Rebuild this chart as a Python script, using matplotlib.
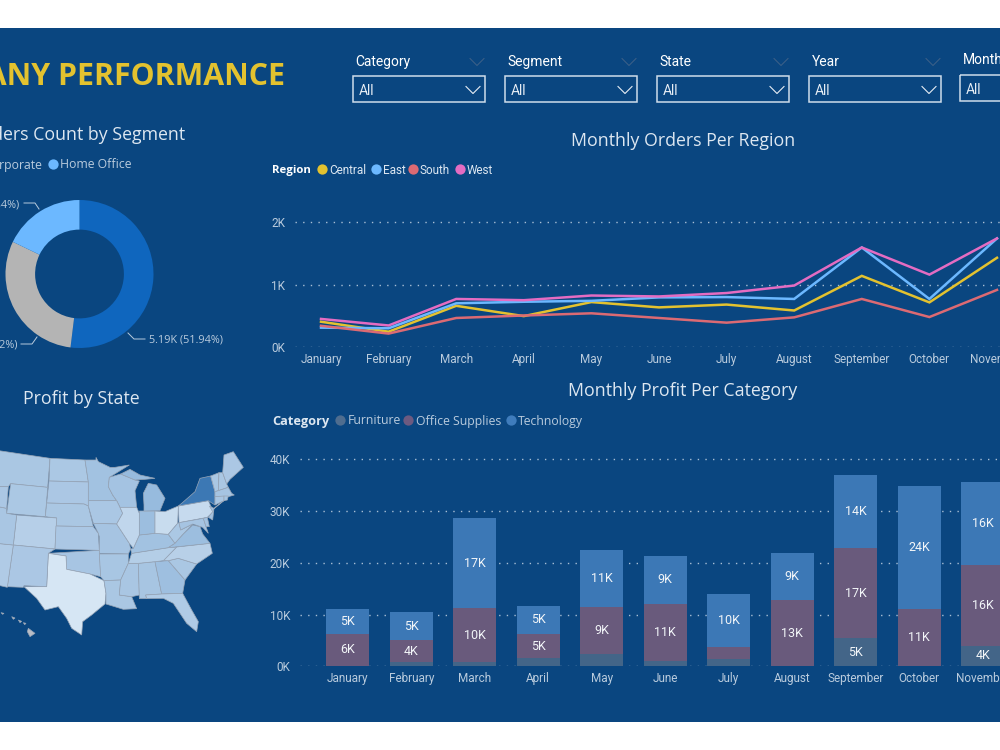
import matplotlib
matplotlib.use("Agg")
import matplotlib.pyplot as plt
from matplotlib.colors import LinearSegmentedColormap, Normalize
from matplotlib.patches import Polygon, Rectangle

plt.rcParams["font.family"] = ["Open Sans", "DejaVu Sans"]

# ---- data ----
months = ["January", "February", "March", "April", "May", "June", "July",
          "August", "September", "October", "November"]

central = [405, 245, 660, 495, 720, 635, 680, 585, 1140, 715, 1430]
east = [310, 300, 700, 725, 740, 795, 800, 770, 1595, 770, 1740]
south = [340, 215, 465, 505, 540, 465, 390, 475, 770, 480, 915]
west = [450, 345, 770, 750, 825, 810, 865, 985, 1595, 1160, 1740]

furniture = [0, 800, 800, 1550, 2400, 1000, 1400, 0, 5400, 0, 4000]
office = [6300, 4200, 10400, 4700, 9050, 11100, 2400, 12800, 17400, 11100, 15600]
technology = [4850, 5400, 17400, 5400, 11050, 9200, 10100, 9050, 14100, 23800, 16050]

segments = ["Consumer", "Corporate", "Home Office"]
segment_orders = [5191, 3020, 1783]

slicer_names = ["Category", "Segment", "State", "Year", "Month"]

# profit per state, guessed from the shade on the map
state_profit = {
    "Montana": 1800, "NorthDakota": 200, "SouthDakota": 400, "Wyoming": 100,
    "Nebraska": 2000, "Colorado": -6500, "Kansas": 800, "Oklahoma": 4800,
    "Texas": -25700, "NewMexico": 1100, "Arizona": -3400, "Utah": 2500,
    "Idaho": 800, "Minnesota": 10800, "Wisconsin": 8400, "Iowa": 1200,
    "Missouri": 6400, "Arkansas": 4000, "Louisiana": 2200, "Mississippi": 3200,
    "Alabama": 5800, "Georgia": 16300, "Florida": -3400, "SouthCarolina": 1800,
    "NorthCarolina": -7500, "Tennessee": -5300, "Kentucky": 11200,
    "Illinois": -12600, "Indiana": 18400, "Ohio": -17000, "Michigan": 24500,
    "Pennsylvania": -15600, "NewYork": 74000, "WestVirginia": 200,
    "Virginia": 18600, "Maryland": 7000, "Delaware": 9900, "NewJersey": 9800,
    "Vermont": 2200, "NewHampshire": 1700, "Maine": 450, "Massachusetts": 6800,
    "Connecticut": 3500, "RhodeIsland": 7300, "Hawaii": 0,
}

# rough state outlines
state_shapes = {
    "Montana": [[(-30, 208), (150, 235), (143, 322), (32, 311), (25, 320), (-30, 320)]],
    "NorthDakota": [[(150, 235), (255, 240), (265, 306), (147, 303)]],
    "SouthDakota": [[(147, 303), (265, 306), (265, 378), (252, 372), (140, 369)]],
    "Wyoming": [[(32, 311), (143, 322), (136, 410), (20, 400)]],
    "Nebraska": [[(140, 369), (252, 372), (265, 378), (280, 440), (168, 438), (170, 414), (136, 410)]],
    "Colorado": [[(50, 405), (170, 414), (165, 507), (40, 495)]],
    "Kansas": [[(168, 438), (280, 440), (295, 460), (298, 511), (165, 507)]],
    "Oklahoma": [[(145, 520), (298, 511), (302, 590), (270, 582), (200, 568), (198, 528)]],
    "Texas": [[(145, 520), (198, 528), (200, 568), (270, 582), (312, 602), (318, 640), (315, 672),
               (275, 705), (248, 725), (245, 765), (215, 745), (200, 715), (175, 680), (135, 690),
               (110, 655), (72, 620), (140, 620)]],
    "NewMexico": [[(40, 495), (165, 507), (145, 520), (140, 620), (72, 617), (70, 622), (22, 620)]],
    "Arizona": [[(-30, 488), (40, 495), (22, 622), (-30, 610)]],
    "Utah": [[(-30, 375), (20, 385), (20, 400), (50, 405), (40, 495), (-30, 488)]],
    "Idaho": [[(-30, 320), (25, 320), (20, 385), (-30, 375)]],
    "Minnesota": [[(255, 240), (288, 240), (288, 232), (295, 245), (330, 262), (345, 262), (388, 255),
                   (328, 292), (325, 320), (338, 345), (350, 362), (265, 362), (265, 306)]],
    "Wisconsin": [[(328, 292), (362, 282), (405, 300), (418, 303), (405, 332), (410, 382), (360, 382),
                   (350, 362), (338, 345), (325, 320)]],
    "Iowa": [[(265, 362), (350, 362), (360, 382), (368, 400), (350, 432), (280, 430), (265, 378)]],
    "Missouri": [[(280, 430), (350, 432), (388, 490), (392, 507), (385, 522), (298, 520), (298, 470), (295, 460)]],
    "Arkansas": [[(298, 522), (385, 522), (385, 550), (362, 600), (312, 602), (302, 590)]],
    "Louisiana": [[(312, 602), (362, 600), (358, 645), (395, 650), (410, 686), (370, 688), (318, 672), (318, 640)]],
    "Mississippi": [[(385, 550), (415, 550), (418, 645), (395, 650), (358, 645), (362, 600)]],
    "Alabama": [[(415, 550), (465, 545), (485, 642), (437, 645), (440, 656), (418, 656)]],
    "Georgia": [[(465, 545), (505, 542), (555, 600), (548, 640), (485, 642)]],
    "Florida": [[(437, 645), (485, 642), (548, 640), (575, 690), (595, 725), (590, 755), (560, 730),
                 (540, 700), (520, 670), (490, 655), (440, 656)]],
    "SouthCarolina": [[(505, 542), (535, 535), (590, 552), (555, 600)]],
    "NorthCarolina": [[(490, 542), (530, 501), (630, 490), (637, 520), (590, 552), (535, 535), (505, 542)]],
    "Tennessee": [[(385, 550), (395, 520), (505, 503), (530, 501), (490, 542), (465, 545), (415, 550)]],
    "Kentucky": [[(392, 507), (400, 505), (418, 465), (465, 460), (505, 463), (525, 490), (505, 503), (395, 520)]],
    "Illinois": [[(360, 382), (410, 382), (418, 400), (418, 465), (400, 505), (388, 490), (350, 432), (368, 400)]],
    "Indiana": [[(418, 393), (465, 393), (465, 460), (418, 465)]],
    "Ohio": [[(465, 393), (495, 395), (535, 378), (533, 430), (505, 463), (465, 460)]],
    "Michigan": [[(432, 375), (430, 340), (445, 310), (470, 315), (495, 355), (480, 392), (432, 393)],
                 [(362, 282), (390, 268), (420, 285), (465, 295), (435, 298), (405, 300)]],
    "Pennsylvania": [[(535, 378), (625, 362), (640, 395), (622, 412), (537, 428)]],
    "NewYork": [[(545, 370), (585, 335), (600, 295), (632, 288), (645, 335), (645, 375), (625, 362), (535, 378)],
                [(640, 388), (680, 355), (645, 382)]],
    "WestVirginia": [[(533, 430), (537, 428), (542, 450), (578, 432), (550, 462), (525, 490), (505, 463)]],
    "Virginia": [[(505, 503), (525, 490), (550, 462), (578, 435), (600, 440), (608, 462), (630, 490)]],
    "Maryland": [[(537, 428), (610, 415), (618, 440), (625, 460), (608, 442), (578, 432), (542, 450)]],
    "Delaware": [[(610, 415), (622, 412), (628, 440), (618, 440)]],
    "NewJersey": [[(628, 378), (642, 385), (638, 420), (625, 412), (638, 395)]],
    "Vermont": [[(632, 288), (657, 278), (655, 332), (645, 335)]],
    "NewHampshire": [[(657, 278), (668, 278), (680, 312), (685, 322), (655, 332)]],
    "Maine": [[(672, 225), (700, 215), (730, 262), (690, 298), (680, 312), (668, 278)]],
    "Massachusetts": [[(645, 335), (655, 332), (685, 322), (695, 340), (703, 345), (685, 350), (645, 350)]],
    "Connecticut": [[(645, 350), (672, 348), (672, 362), (645, 375)]],
    "RhodeIsland": [[(672, 348), (685, 348), (682, 360), (672, 362)]],
    "Hawaii": [[(85, 745), (105, 760), (90, 770), (82, 755)], [(3, 698), (12, 700), (8, 703)],
               [(35, 710), (45, 714), (40, 718)], [(55, 720), (65, 724), (60, 728)], [(70, 728), (78, 730), (74, 734)]],
}

# ---- colours ----
navy = "#0A4680"
title_col = "#DDE7F1"
tick_col = "#B9CBDD"
grid_col = "#A8BED4"
yellow = "#E3C22F"
region_cols = {"Central": yellow, "East": "#6CB8FF", "South": "#DC6A73", "West": "#E46CC2"}
cat_cols = {"Furniture": "#436588", "Office Supplies": "#695A7C", "Technology": "#3C78B6"}
cat_dots = {"Furniture": "#4F6D8F", "Office Supplies": "#6D5A80", "Technology": "#3F7CBC"}
seg_cols = ["#0F66BE", "#B4B4B4", "#6CB8FF"]

fig = plt.figure(figsize=(10, 7.5), dpi=100, facecolor="white")

# overlay in pixel coordinates, for the page furniture
page = fig.add_axes([0, 0, 1, 1])
page.set_xlim(0, 1000)
page.set_ylim(750, 0)
page.axis("off")
page.add_patch(Rectangle((0, 28), 1000, 694, facecolor=navy, edgecolor="none"))


def chevron(x, y, w, h, col, lw=0.8):
    page.plot([x - w, x, x + w], [y - h, y + h, y - h], color=col, lw=lw)


page.text(285, 77, "COMPANY PERFORMANCE", color=yellow, fontsize=21.8, fontweight="bold",
          ha="right", va="center")

# slicers
slicer_x = [353, 505, 657, 809, 960]
for i, name in enumerate(slicer_names):
    x0 = slicer_x[i]
    dy = -1.5 if name == "Month" else 0
    page.text(x0 + 2.5, 62 + dy, name, color="white", fontsize=10, family="Roboto", va="center")
    chevron(x0 + 124, 62 + dy, 7, 3.5, "#3F6288", 0.7)
    page.add_patch(Rectangle((x0, 76 + dy), 132, 26, facecolor="none", edgecolor="#CFDDEA", lw=1.1))
    page.text(x0 + 6, 91 + dy, "All", color="#E6EDF4", fontsize=10, family="Roboto", va="center")
    chevron(x0 + 120, 90 + dy, 7, 3.5, "#E6EDF4")

page.text(185, 135.5, "Orders Count by Segment", color=title_col, fontsize=12.8, ha="right", va="center")
page.text(683, 140.5, "Monthly Orders Per Region", color=title_col, fontsize=12.8, ha="center", va="center")
page.text(683, 390.5, "Monthly Profit Per Category", color=title_col, fontsize=12.8, ha="center", va="center")
page.text(81, 399.5, "Profit by State", color=title_col, fontsize=12.8, ha="center", va="center")

# legends
page.text(42, 165, "Corporate", color=tick_col, fontsize=8.8, ha="right", va="center")
page.scatter([53], [164], s=55, color=seg_cols[2], linewidths=0)
page.text(60, 165, "Home Office", color=tick_col, fontsize=8.8, va="center")

page.text(272, 170, "Region", color="white", fontsize=8.2, fontweight="bold", va="center")
for name, x in zip(region_cols, [322, 376, 413, 460]):
    page.scatter([x], [169], s=55, color=region_cols[name], linewidths=0)
    page.text(x + 7, 170, name, color=title_col, fontsize=8.5, family="Roboto", va="center")

page.text(272, 421, "Category", color=title_col, fontsize=9.2, fontweight="bold", va="center")
for name, x in zip(cat_cols, [340, 408, 510.5]):
    page.scatter([x], [420], s=55, color=cat_dots[name], linewidths=0)
    page.text(x + 7.5, 421, name, color=tick_col, fontsize=8.8, va="center")

# donut
donut = fig.add_axes([5.5 / 1000, (750 - 348) / 750, 148 / 1000, 148 / 750])
donut.pie(segment_orders, colors=seg_cols, startangle=90, counterclock=False, radius=1,
          wedgeprops={"width": 0.4, "linewidth": 0})
donut.set_xlim(-1, 1)
donut.set_ylim(-1, 1)

total = sum(segment_orders)
seg_labels = [f"{v / 1000:.2f}K ({v / total * 100:.2f}%)" for v in segment_orders]
page.text(149, 340, seg_labels[0], color=tick_col, fontsize=7.8, va="center")
page.text(17, 345, seg_labels[1], color=tick_col, fontsize=7.8, ha="right", va="center")
page.text(19, 205, seg_labels[2], color=tick_col, fontsize=7.8, ha="right", va="center")
page.plot([128, 134, 145], [333, 339, 339], color=tick_col, lw=0.7)
page.plot([21, 32, 37], [344, 344, 337], color=tick_col, lw=0.7)
page.plot([24, 35, 39], [203, 203, 209], color=tick_col, lw=0.7)

# map
usa = fig.add_axes([0, (750 - 650) / 750, 0.27, 270 / 750])
usa.set_xlim(0, 810)
usa.set_ylim(810, 0)
usa.axis("off")
profit_cmap = LinearSegmentedColormap.from_list(
    "profit", [(0, "#D6E6F4"), (0.25, "#ACC8E4"), (0.5, "#97BBDE"), (1, "#3C78B4")])
profit_norm = Normalize(-25700, 74000)
for state, parts in state_shapes.items():
    col = profit_cmap(profit_norm(state_profit[state]))
    if state == "Hawaii":
        col = "#B9BDC6"
    for part in parts:
        usa.add_patch(Polygon(part, closed=True, facecolor=col, edgecolor="#98A5B6", lw=0.5))

# line chart
line_ax = fig.add_axes([0.295, (750 - 347) / 750, 0.705, 156 / 750])
line_ax.patch.set_alpha(0)
for name, vals in zip(region_cols, [central, east, south, west]):
    line_ax.plot(range(len(months)), vals, color=region_cols[name], lw=1.8, solid_joinstyle="miter")
line_ax.set_xlim((295 - 321) / 67.6, (1000 - 321) / 67.6)
line_ax.set_ylim(0, 2500)
line_ax.set_yticks([0, 1000, 2000])
line_ax.set_yticklabels(["0K", "1K", "2K"])
line_ax.set_xticks(range(len(months)))
line_ax.set_xticklabels(months)

# stacked bars
bar_ax = fig.add_axes([0.300, (750 - 666.3) / 750, 0.700, 232.9 / 750])
bar_ax.patch.set_alpha(0)
pos = list(range(len(months)))
bottom = [0] * len(months)
for name, vals in zip(cat_cols, [furniture, office, technology]):
    bar_ax.bar(pos, vals, 0.68, bottom=bottom, color=cat_cols[name], linewidth=0)
    for i, v in enumerate(vals):
        if v >= 4000:
            bar_ax.text(i, bottom[i] + v / 2, f"{round(v / 1000)}K", color="#F2F5F8", fontsize=9,
                        family="Roboto", ha="center", va="center")
    bottom = [b + v for b, v in zip(bottom, vals)]
bar_ax.set_xlim((300 - 347.7) / 63.5, (1000 - 347.7) / 63.5)
bar_ax.set_ylim(0, 45000)
bar_ax.set_yticks([0, 10000, 20000, 30000, 40000])
bar_ax.set_yticklabels(["0K", "10K", "20K", "30K", "40K"])
bar_ax.set_xticks(pos)
bar_ax.set_xticklabels(months)

for ax in [line_ax, bar_ax]:
    for side in ax.spines:
        ax.spines[side].set_visible(False)
    ax.yaxis.grid(True, color=grid_col, lw=1, linestyle=(0, (1, 4.5)))
    ax.set_axisbelow(True)
    ax.tick_params(length=0, labelcolor=tick_col, labelsize=8.5)
    ax.tick_params(axis="y", pad=7)
    ax.tick_params(axis="x", pad=4)
    for lab in ax.get_xticklabels() + ax.get_yticklabels():
        lab.set_family("Roboto")

fig.savefig("out.png", dpi=100)
